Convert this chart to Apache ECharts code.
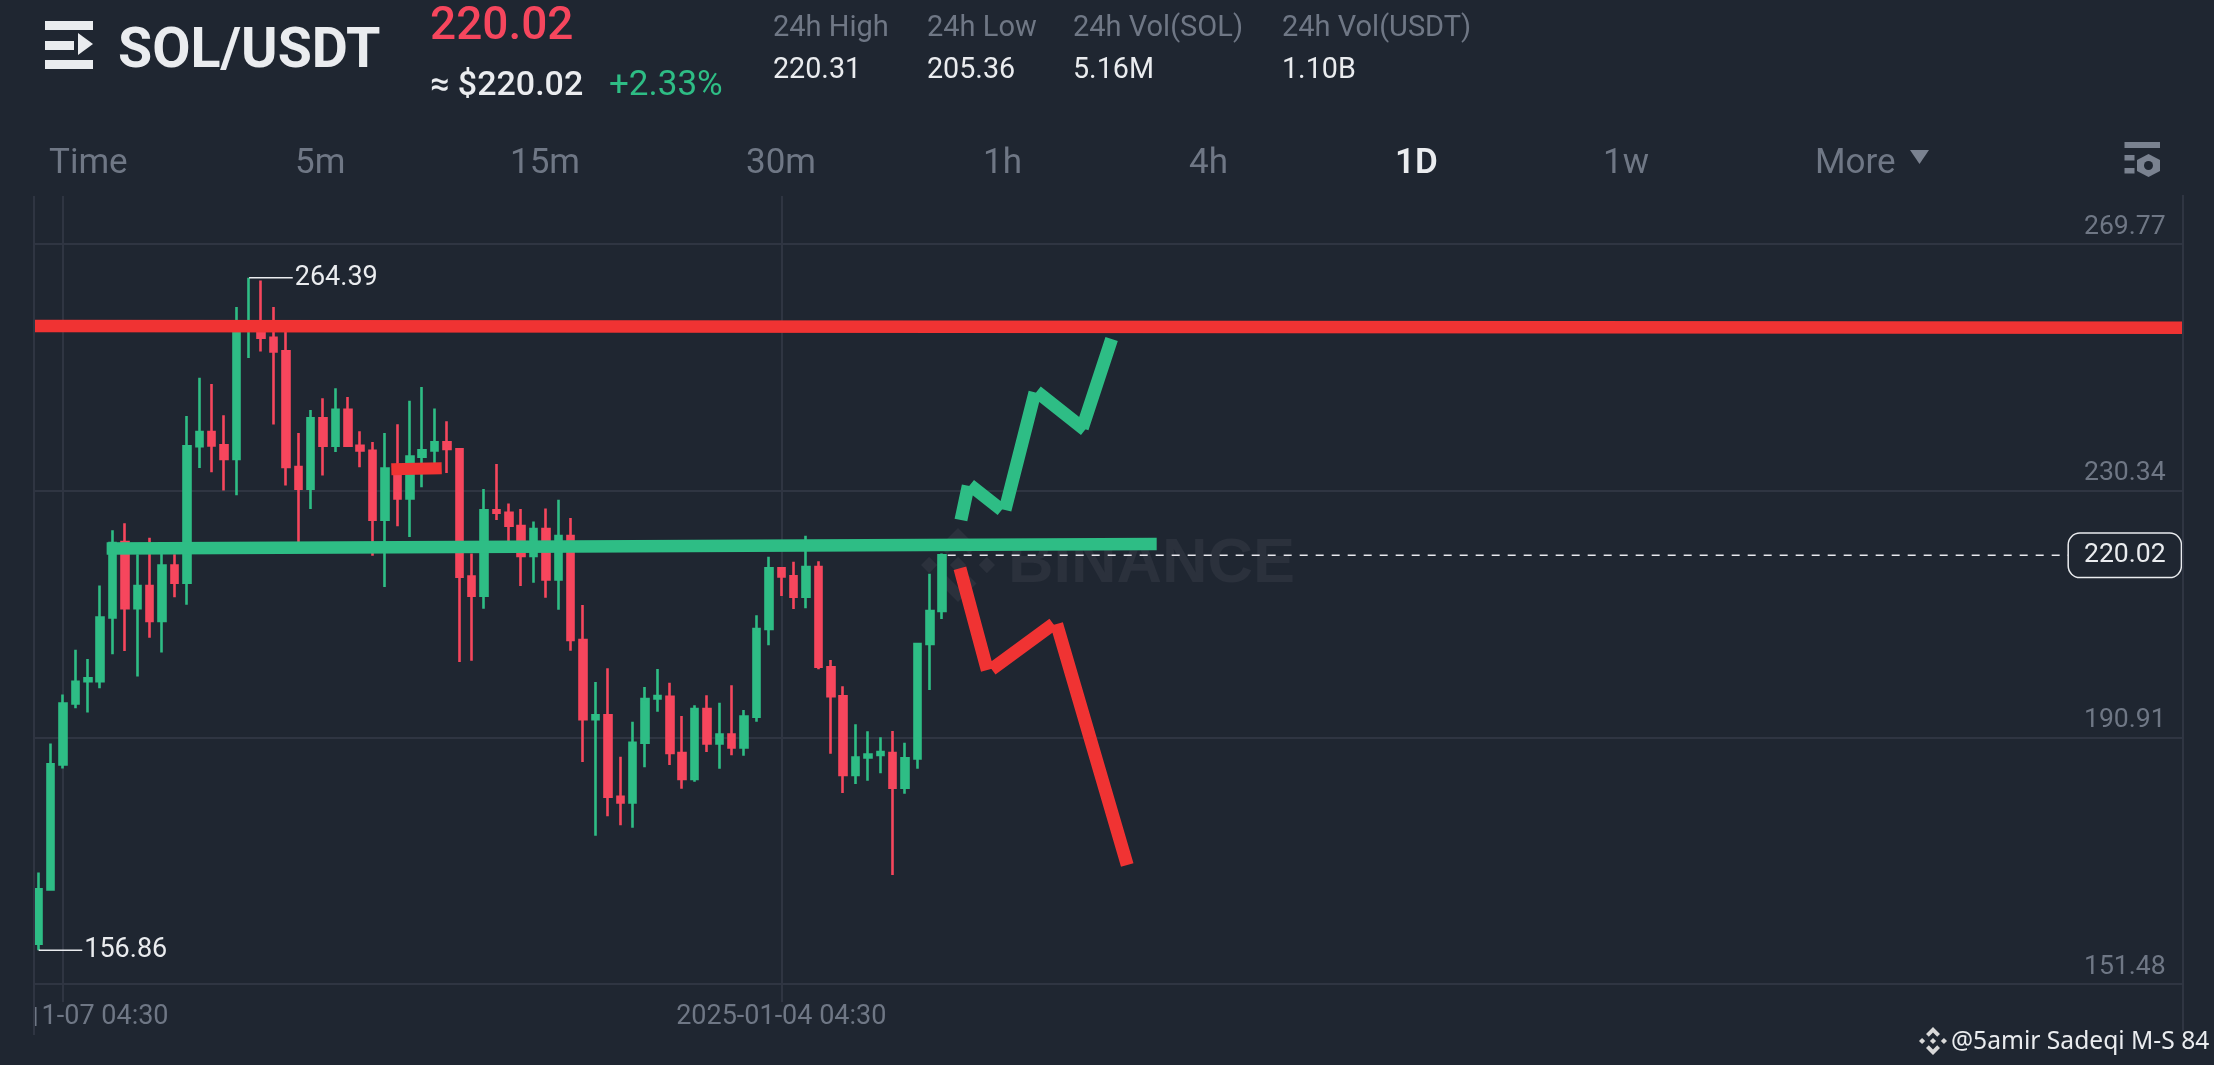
<!DOCTYPE html>
<html><head><meta charset="utf-8">
<style>html,body{margin:0;padding:0;background:#1f2631}#c{width:2214px;height:1065px}</style>
<script src="https://cdn.jsdelivr.net/npm/echarts@6/dist/echarts.min.js"></script>
</head><body><div id="c"></div>
<script>
// daily candles, each [open, close, low, high]
const candles = [
[157.93,166.61,156.86,169.32],[166.61,186.60,166.46,189.92],[186.60,196.34,185.93,197.77],[196.34,199.81,195.58,204.94],
[199.88,200.34,194.90,203.43],[199.88,210.07,198.75,215.20],[210.07,221.99,204.19,224.03],[222.14,211.58,204.71,225.16],
[211.58,215.13,200.64,220.20],[215.13,209.54,206.83,222.82],[209.54,218.37,204.49,220.50],[218.37,215.66,213.32,220.20],
[215.66,237.46,212.11,242.29],[237.46,239.73,233.99,248.41],[239.73,237.60,233.31,247.42],[237.60,235.43,230.37,242.44],
[235.43,256.10,229.62,259.72],[256.10,257.40,251.57,264.39],[257.40,254.82,252.63,263.95],[254.82,252.63,240.93,259.72],
[252.63,234.14,231.20,256.90],[234.14,230.67,221.50,239.58],[230.67,241.92,227.43,243.27],[241.92,237.55,232.79,245.16],
[237.55,243.31,236.54,246.72],[243.31,237.55,237.50,245.34],[237.55,236.81,234.09,239.85],[236.75,225.72,219.97,238.14],
[225.72,233.88,214.96,239.58],[233.90,229.13,224.66,240.97],[229.13,235.80,222.95,244.75],[235.80,236.81,230.89,246.93],
[236.81,238.09,234.50,243.52],[238.09,237.02,233.18,241.45],[236.97,216.61,202.96,237.20],[216.61,213.57,203.18,220.30],
[213.57,227.21,211.49,230.63],[227.21,226.84,225.67,234.62],[226.84,224.76,222.00,228.33],[224.71,219.91,215.12,227.43],
[219.91,224.23,215.65,225.45],[224.23,216.18,213.25,227.53],[216.18,223.11,211.33,228.92],[223.11,206.48,204.78,225.99],
[206.48,193.80,186.97,212.08],[193.80,194.44,175.19,199.77],[194.44,181.43,178.29,201.95],[181.43,180.52,176.85,187.83],
[180.52,190.06,176.47,193.42],[190.06,197.05,186.12,198.97],[197.15,197.53,195.02,201.84],[197.42,188.42,186.50,199.66],
[188.42,184.26,182.71,194.33],[184.26,195.45,183.83,196.04],[195.45,189.96,188.58,197.64],[189.96,191.35,185.91,196.46],
[191.35,189.32,188.04,199.24],[189.32,194.23,187.99,195.29],[194.23,208.24,193.43,210.43],[208.24,217.94,205.63,219.81],
[217.94,216.66,213.52,218.16],[216.66,213.41,211.44,219.01],[213.41,218.16,211.55,223.17],[218.16,202.22,201.79,219.06],
[202.12,197.48,188.31,203.29],[197.48,184.90,182.02,199.08],[184.90,187.67,183.46,193.00],[187.72,188.15,183.99,191.88],
[188.10,188.58,185.16,190.92],[188.42,182.87,168.91,191.93],[182.87,187.56,181.91,190.07],[187.56,205.84,185.91,206.00],
[205.84,211.12,198.49,217.09],[211.12,220.02,209.84,220.31]
];
const slotCount = 174;
const priceTicks = [151.48, 190.91, 230.34, 269.77];
const dateTickIndex = [2, 60];
const dateTickLabels = ['1-07 04:30', '2025-01-04 04:30'];
const lastPrice = 220.02, highPrice = 264.39, lowPrice = 156.86;
// drawn lines, as [candle position, price]
const redLevel = [[-0.27,256.69],[173.5,256.43]];
const redShort = [[28.51,233.78],[32.58,233.94]];
const greenLevel = [[5.52,221.10],[90.32,221.83]];
const greenZig = [[[74.51,225.67],[75.10,231.15]],[[75.24,231.27],[77.80,227.27]],[[78.07,227.27],[80.49,246.09]],[[80.63,246.19],[84.53,240.07]],[[84.31,240.33],[86.68,254.61]]];
const redZig = [[[74.43,217.95],[76.64,201.68]],[[76.99,201.79],[81.97,209.04]],[[82.24,209.04],[87.94,170.50]]];
const lastPriceSpan = [73.44, 163.99];
const highSpan = [17.03, 20.55];
const lowSpan = [0.03, 3.55];
const header = {pair:'SOL/USDT', price:'220.02', usd:'≈ $220.02', change:'+2.33%'};
const statNames = ['24h High','24h Low','24h Vol(SOL)','24h Vol(USDT)'];
const statValues = ['220.31','205.36','5.16M','1.10B'];
const tabs = ['Time','5m','15m','30m','1h','4h','1D','1w','More'];
const credit = '@5amir Sadeqi M-S 84';

const BG='#1f2631', UP='#2ebd85', DN='#f6465d', RED='#f03333', GRID='#2f3542', GREY='#6f7785', LIGHT='#eaecef';
const categories = Array.from({length:slotCount},(_,i)=>'d'+i);
const FONT='Roboto';

function segLine(segs,color,w){
  const data=[]; segs.forEach((s,k)=>{ if(k) data.push([null,null]); s.forEach(p=>data.push(p)); });
  return {type:'line',xAxisIndex:1,yAxisIndex:0,data,connectNulls:false,symbol:'none',silent:true,z:6,
    lineStyle:{color,width:w,cap:'butt',join:'miter'},animation:false};
}
function note(span,price,text,distance){
  return {type:'line',xAxisIndex:1,yAxisIndex:0,data:[[span[0],price],[span[1],price]],symbol:'none',silent:true,z:7,
    lineStyle:{color:LIGHT,width:1.5},
    endLabel:{show:true,formatter:text,color:LIGHT,fontFamily:FONT,fontSize:27,distance:distance}};
}
function txt(text,x,y,size,fill,weight,align,z){
  return {type:'text',silent:true,z:z||20,style:{text:text,x:x,y:y,fill:fill,align:align||'left',verticalAlign:'middle',
    font:(weight||400)+' '+size+'px '+FONT}};
}
function poly(points,cx,cy,r,fill,z){
  return {type:'polygon',silent:true,z:z,shape:{points:points.map(p=>[cx+p[0]*r,cy+p[1]*r])},style:{fill:fill}};
}
function diamond(ax,ay,s){return [[ax,ay-s],[ax+s,ay],[ax,ay+s],[ax-s,ay]];}
function logo(cx,cy,r,fill,z){
  const top=[[0,-1],[.5,-.5],[.3,-.3],[0,-.6],[-.3,-.3],[-.5,-.5]];
  const bottom=top.map(p=>[p[0],-p[1]]);
  return [poly(top,cx,cy,r,fill,z),poly(bottom,cx,cy,r,fill,z),poly(diamond(0,0,.22),cx,cy,r,fill,z),
          poly(diamond(-.78,0,.22),cx,cy,r,fill,z),poly(diamond(.78,0,.22),cx,cy,r,fill,z)];
}
const tabX=[49,295,510,746,983,1189,1395,1603,1815];
const statX=[773,927,1073,1282];
const graphicEls=[
  // watermark, under the candles
  ...logo(958,565,37,'#2b313c',1),
  {type:'text',silent:true,z:1,style:{text:'BINANCE',x:1008,y:565,fill:'#2b313c',verticalAlign:'middle',font:'700 63px "Liberation Sans"'}},
  // edges
  {type:'rect',silent:true,z:10,shape:{x:0,y:190,width:34,height:815},style:{fill:BG}},
  {type:'rect',silent:true,z:10,shape:{x:2184,y:190,width:6,height:815},style:{fill:BG}},
  {type:'line',silent:true,z:11,shape:{x1:34,y1:196,x2:34,y2:1035},style:{stroke:GRID,lineWidth:2}},
  {type:'line',silent:true,z:11,shape:{x1:2183,y1:195,x2:2183,y2:1031},style:{stroke:GRID,lineWidth:2}},
  {type:'rect',silent:true,z:11,shape:{x:35,y:1007,width:1.5,height:19},style:{fill:GREY}},
  // header
  {type:'rect',silent:true,z:20,shape:{x:45,y:21,width:48,height:9},style:{fill:LIGHT}},
  {type:'rect',silent:true,z:20,shape:{x:45,y:41,width:29,height:9},style:{fill:LIGHT}},
  {type:'rect',silent:true,z:20,shape:{x:45,y:60,width:48,height:9},style:{fill:LIGHT}},
  {type:'polygon',silent:true,z:20,shape:{points:[[78,33],[93,44],[78,55]]},style:{fill:LIGHT}},
  txt(header.pair,118,53,55.5,LIGHT,700),
  txt(header.price,430,27,46,DN,500),
  txt(header.usd,430,86,34,LIGHT,500),
  txt(header.change,609,86,35,UP,400),
  ...statNames.map((s,i)=>txt(s,statX[i],29,29,GREY)),
  ...statValues.map((s,i)=>txt(s,statX[i],71,28.7,LIGHT)),
  ...tabs.map((s,i)=>txt(s,tabX[i],164,35,s==='1D'?LIGHT:GREY,s==='1D'?600:400)),
  {type:'polygon',silent:true,z:20,shape:{points:[[1910,150],[1929,150],[1919.5,164]]},style:{fill:'#7a8290'}},
  // settings icon
  {type:'rect',silent:true,z:20,shape:{x:2124.5,y:142,width:35.5,height:6},style:{fill:'#7a8290'}},
  {type:'rect',silent:true,z:20,shape:{x:2124.5,y:155,width:10,height:5.5},style:{fill:'#7a8290'}},
  {type:'rect',silent:true,z:20,shape:{x:2124.5,y:168,width:10,height:5.5},style:{fill:'#7a8290'}},
  {type:'polygon',silent:true,z:20,shape:{points:[[2148.5,154],[2160,160],[2160,171],[2148.5,177],[2137,171],[2137,160]]},style:{fill:'#7a8290'}},
  {type:'circle',silent:true,z:21,shape:{cx:2148.5,cy:165.5,r:4.5},style:{fill:BG}},
  // credit
  ...logo(1933,1041,14,'#d9d9d9',20),
  {type:'text',silent:true,z:20,style:{text:credit,x:1951,y:1042,fill:LIGHT,verticalAlign:'middle',font:'400 24.6px "Noto Sans"'}}
];

const chart=echarts.init(document.getElementById('c'),null,{renderer:'canvas'});
chart.setOption({
  animation:false,backgroundColor:BG,
  grid:{left:32.1,width:2154.6,top:196,height:806,containLabel:false},
  xAxis:[
    {type:'category',data:categories,boundaryGap:true,position:'bottom',
      axisLine:{show:false},axisTick:{show:false},splitLine:{show:false},
      axisLabel:{show:true,color:GREY,fontFamily:FONT,fontSize:27,margin:2,hideOverlap:false,
        interval:(i)=>dateTickIndex.includes(i),
        formatter:(v,i)=>{const k=dateTickIndex.indexOf(i);return k===0?'{cut|'+dateTickLabels[0]+'}':k===1?dateTickLabels[1]:'';},
        rich:{cut:{padding:[0,0,0,84],color:GREY,fontFamily:FONT,fontSize:27}}}},
    {type:'value',show:false,min:-0.5,max:slotCount-0.5}
  ],
  yAxis:{type:'value',position:'right',min:148.6,max:277.48,scale:true,
    axisLine:{show:false},axisTick:{show:false},splitLine:{show:false},
    axisLabel:{inside:true,margin:21,color:GREY,fontFamily:FONT,fontSize:26.6,
      customValues:priceTicks,formatter:(v)=>v.toFixed(2),verticalAlign:'bottom',lineHeight:30,padding:[0,0,2,0]}},
  series:[
    {type:'candlestick',xAxisIndex:0,yAxisIndex:0,data:candles,barWidth:7,silent:true,z:2,
      itemStyle:{color:UP,color0:DN,borderColor:UP,borderColor0:DN,borderWidth:2.6},
      markLine:{silent:true,symbol:'none',z:1,animation:false,label:{show:false},
        lineStyle:{color:GRID,width:2,type:'solid'},
        data:[...priceTicks.map(v=>({yAxis:v})),...dateTickIndex.map(i=>({xAxis:categories[i]}))]}},
    {type:'line',xAxisIndex:1,yAxisIndex:0,data:[[lastPriceSpan[0],lastPrice],[lastPriceSpan[1],lastPrice]],symbol:'none',silent:true,z:3,
      lineStyle:{color:'#e8e8ee',width:1.5,type:[8,8]},
      endLabel:{show:true,formatter:lastPrice.toFixed(2),distance:0,color:LIGHT,fontFamily:FONT,fontSize:26.6,
        backgroundColor:BG,borderColor:LIGHT,borderWidth:1.5,borderRadius:11,padding:[8,15]}},
    note(highSpan,highPrice,highPrice.toFixed(2),2),
    note(lowSpan,lowPrice,lowPrice.toFixed(2),2),
    segLine([redLevel],RED,12.5),
    segLine([redShort],RED,12),
    segLine([greenLevel],UP,12.5),
    segLine(greenZig,UP,13),
    segLine(redZig,RED,13)
  ],
  graphic:{elements:graphicEls}
});
</script></body></html>
